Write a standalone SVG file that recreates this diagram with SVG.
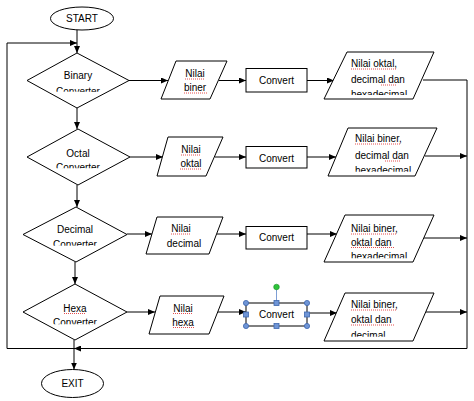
<svg xmlns="http://www.w3.org/2000/svg" width="474" height="401" viewBox="0 0 474 401">
<style>
.s{fill:#fff;stroke:#000;stroke-width:1}
.t{font-family:"Liberation Sans",Arial,sans-serif;font-size:10px;fill:#000}
.c{text-anchor:middle}
.ln{fill:none;stroke:#000;stroke-width:1}
.sq{fill:none;stroke:#d22;stroke-width:0.8;stroke-dasharray:1,1}
.h{fill:#6f95d6;stroke:#3d66ad;stroke-width:0.8}
</style>
<defs>
<marker id="ar" markerWidth="7" markerHeight="6" refX="7" refY="3" orient="auto" markerUnits="userSpaceOnUse">
<path d="M0,0 L7,3 L0,6 Z" fill="#000"/>
</marker>
<clipPath id="cd1"><rect x="0" y="0" width="474" height="91.7"/></clipPath>
<clipPath id="cd2"><rect x="0" y="0" width="474" height="168.3"/></clipPath>
<clipPath id="cd3"><rect x="0" y="0" width="474" height="245.7"/></clipPath>
<clipPath id="cd4"><rect x="0" y="0" width="474" height="324.3"/></clipPath>
<clipPath id="cr1"><rect x="0" y="0" width="474" height="95"/></clipPath>
<clipPath id="cr2"><rect x="0" y="0" width="474" height="171.7"/></clipPath>
<clipPath id="cr3"><rect x="0" y="0" width="474" height="258.3"/></clipPath>
<clipPath id="cr4"><rect x="0" y="0" width="474" height="336.7"/></clipPath>
</defs>

<g id="connectors">
<path class="ln" d="M77,29.5 V53" marker-end="url(#ar)"/>
<path class="ln" d="M423,80 H467 V348.5 H74" marker-end="url(#ar)"/>
<path class="ln" d="M74,348.5 H7 V43 H77" marker-end="url(#ar)"/>
<path class="ln" d="M129,80.5 H168" marker-end="url(#ar)"/>
<path class="ln" d="M219,80.5 H246" marker-end="url(#ar)"/>
<path class="ln" d="M307,80.5 H334" marker-end="url(#ar)"/>
<path class="ln" d="M77,108 V129" marker-end="url(#ar)"/>
<path class="ln" d="M130,157 H163" marker-end="url(#ar)"/>
<path class="ln" d="M215,157 H246" marker-end="url(#ar)"/>
<path class="ln" d="M307,157 H336" marker-end="url(#ar)"/>
<path class="ln" d="M425,156 H467" marker-end="url(#ar)"/>
<path class="ln" d="M77,185 V207" marker-end="url(#ar)"/>
<path class="ln" d="M127,234 H152" marker-end="url(#ar)"/>
<path class="ln" d="M217,234 H246" marker-end="url(#ar)"/>
<path class="ln" d="M307,234 H337" marker-end="url(#ar)"/>
<path class="ln" d="M424,238 H467" marker-end="url(#ar)"/>
<path class="ln" d="M75,262 V284" marker-end="url(#ar)"/>
<path class="ln" d="M127,312 H155" marker-end="url(#ar)"/>
<path class="ln" d="M218,312 H246" marker-end="url(#ar)"/>
<path class="ln" d="M307,313 H337" marker-end="url(#ar)"/>
<path class="ln" d="M426,312 H467" marker-end="url(#ar)"/>
<path class="ln" d="M74,340 V369.5" marker-end="url(#ar)"/>
</g>

<g id="start">
<ellipse class="s" cx="82" cy="18.5" rx="31.5" ry="11.5"/>
<text class="t c" x="82" y="22">START</text>
</g>

<g id="binary-converter">
<polygon class="s" points="77,53 129,80.5 77,108 27,80.5"/>
<text class="t c" x="78" y="79">Binary</text>
<text class="t c" x="78" y="94.7" clip-path="url(#cd1)">Converter</text>
</g>
<g id="octal-converter">
<polygon class="s" points="78,129 130,157 78,185 27,157"/>
<text class="t c" x="78" y="156.5">Octal</text>
<text class="t c" x="78" y="171.2" clip-path="url(#cd2)">Converter</text>
</g>
<g id="decimal-converter">
<polygon class="s" points="76,207 127,234.5 76,262 23,234.5"/>
<text class="t c" x="75" y="233.2">Decimal</text>
<text class="t c" x="75" y="248" clip-path="url(#cd3)">Converter</text>
</g>
<g id="hexa-converter">
<polygon class="s" points="75,284 127,312 75,340 23,312"/>
<text class="t c" x="75" y="311.5">Hexa</text>
<path class="sq" d="M64,313.5 H86"/>
<text class="t c" x="75" y="326.2" clip-path="url(#cd4)">Converter</text>
</g>

<g id="nilai-biner">
<polygon class="s" points="176,61 227,61 210,99 161,99"/>
<text class="t c" x="195" y="77">Nilai</text>
<text class="t c" x="195" y="91">biner</text>
<path class="sq" d="M185,79 H205 M184,93 H207"/>
</g>
<g id="nilai-oktal">
<polygon class="s" points="168,137 223,137 206,176 157,176"/>
<text class="t c" x="191" y="153">Nilai</text>
<text class="t c" x="191" y="167">oktal</text>
<path class="sq" d="M181,155 H201 M180,169 H202"/>
</g>
<g id="nilai-decimal">
<polygon class="s" points="157,217 223,217 209,254 146,254"/>
<text class="t c" x="181" y="232">Nilai</text>
<text class="t c" x="184" y="246.5">decimal</text>
<path class="sq" d="M171,234 H191"/>
</g>
<g id="nilai-hexa">
<polygon class="s" points="160,296 224,296 209,334 149,334"/>
<text class="t c" x="183" y="311.5">Nilai</text>
<text class="t c" x="183" y="325.5">hexa</text>
<path class="sq" d="M173,313.5 H193 M173,327.5 H194"/>
</g>

<g id="convert-1">
<rect class="s" x="246" y="68.5" width="61" height="23.5"/>
<text class="t c" x="276.5" y="83.5">Convert</text>
</g>
<g id="convert-2">
<rect class="s" x="246" y="146.5" width="61" height="21.5"/>
<text class="t c" x="276.5" y="161.5">Convert</text>
</g>
<g id="convert-3">
<rect class="s" x="246" y="226.5" width="61" height="22.5"/>
<text class="t c" x="276.5" y="240.5">Convert</text>
</g>
<g id="convert-4">
<rect class="s" x="246" y="303" width="61" height="23"/>
<text class="t c" x="276.5" y="318">Convert</text>
<line x1="276.5" y1="303" x2="276.5" y2="287" stroke="#7f9fd6" stroke-width="1"/>
<circle cx="276.5" cy="287" r="2.8" fill="#2ec43a" stroke="#1a8f25" stroke-width="0.6"/>
<circle class="h" cx="246" cy="303" r="2.6"/>
<circle class="h" cx="307" cy="303" r="2.6"/>
<circle class="h" cx="246" cy="326" r="2.6"/>
<circle class="h" cx="307" cy="326" r="2.6"/>
<rect class="h" x="274" y="300.5" width="5" height="5"/>
<rect class="h" x="274" y="323.5" width="5" height="5"/>
<rect class="h" x="243.5" y="312" width="5" height="5"/>
<rect class="h" x="304.5" y="312" width="5" height="5"/>
</g>

<g id="output-1">
<polygon class="s" points="347,52 434,52 413,99 324,99"/>
<text class="t" x="351" y="67">Nilai oktal,</text>
<text class="t" x="351" y="83">decimal dan</text>
<text class="t" x="351" y="97.5" clip-path="url(#cr1)">hexadecimal</text>
<path class="sq" d="M351,69 H396 M381,85 H397"/>
</g>
<g id="output-2">
<polygon class="s" points="348,128 437,128 415,176 328,176"/>
<text class="t" x="355" y="142">Nilai biner,</text>
<text class="t" x="355" y="159">decimal dan</text>
<text class="t" x="355" y="174" clip-path="url(#cr2)">hexadecimal</text>
<path class="sq" d="M355,144 H401 M385,161 H401"/>
</g>
<g id="output-3">
<polygon class="s" points="345,215 434,215 413,262 324,262"/>
<text class="t" x="351" y="232">Nilai biner,</text>
<text class="t" x="351" y="245.5">oktal dan</text>
<text class="t" x="351" y="260" clip-path="url(#cr3)">hexadecimal</text>
<path class="sq" d="M351,234 H397 M351,247.5 H395"/>
</g>
<g id="output-4">
<polygon class="s" points="345,293 434,293 413,341 324,341"/>
<text class="t" x="351" y="308">Nilai biner,</text>
<text class="t" x="351" y="323">oktal dan</text>
<text class="t" x="351" y="338.5" clip-path="url(#cr4)">decimal</text>
<path class="sq" d="M351,310 H397 M351,325 H395"/>
</g>

<g id="exit">
<ellipse class="s" cx="72.5" cy="383.5" rx="31" ry="14"/>
<text class="t c" x="72.5" y="387">EXIT</text>
</g>
</svg>
